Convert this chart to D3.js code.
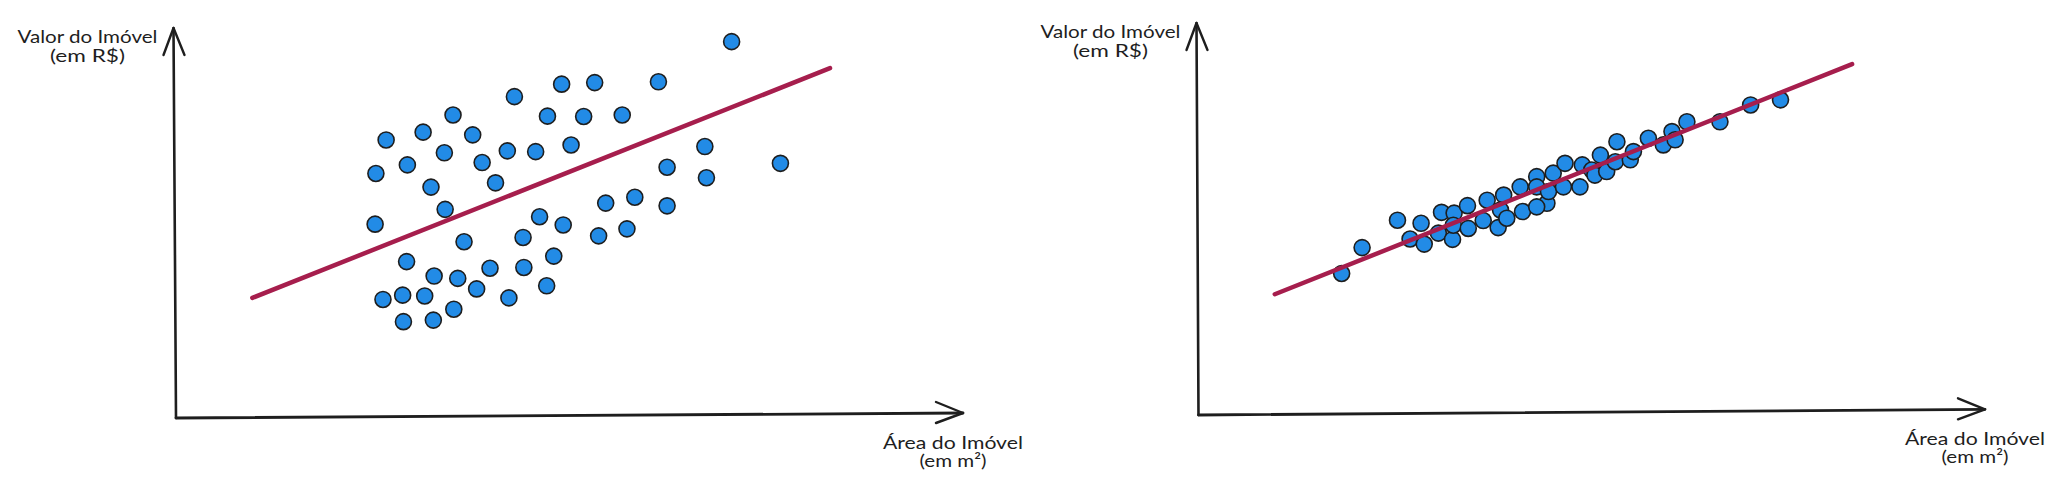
<!DOCTYPE html>
<html>
<head>
<meta charset="utf-8">
<script src="https://cdn.jsdelivr.net/npm/d3@7"></script>
<style>
  html, body { margin: 0; padding: 0; background: #ffffff; }
  svg { display: block; }
  text { font-family: "Lato", "Noto Sans", sans-serif; fill: #1e1e1e; }
</style>
</head>
<body>
<svg id="chart" width="2066" height="495"></svg>
<script>
// ---------- DATA ----------
// Left panel: weak correlation (area vs value, arbitrary 0-100 units)
const leftArea  = [70.6, 49.0, 53.2, 61.3, 43.0, 35.2, 47.2, 51.8, 56.7, 31.4, 37.7, 26.7, 34.1, 42.1, 45.7, 50.2, 67.2,
                   76.8, 25.4, 29.4, 38.9, 62.4, 67.4, 32.4, 40.6, 34.2, 25.3, 58.3, 54.6, 62.4, 46.2, 49.2, 57.3, 53.7,
                   44.1, 36.6, 48.0, 29.3, 39.9, 44.2, 32.8, 35.8, 38.2, 47.1, 26.3, 28.8, 31.6, 42.3, 35.3, 28.9, 32.7];
const leftValue = [96.5, 85.6, 86.0, 86.2, 82.4, 77.7, 77.4, 77.3, 77.7, 73.3, 72.6, 71.3, 68.0, 68.5, 68.3, 70.0, 69.6,
                   65.3, 62.7, 64.9, 65.5, 64.3, 61.6, 59.2, 60.3, 53.5, 49.7, 56.6, 55.1, 54.4, 51.6, 49.5, 48.5, 46.7,
                   46.3, 45.2, 41.5, 40.1, 38.4, 38.6, 36.4, 35.8, 33.1, 33.9, 30.4, 31.5, 31.3, 30.8, 27.9, 24.7, 25.1];
// Right panel: strong correlation
const rightArea  = [18.2, 20.8, 25.3, 28.3, 26.9, 28.7, 30.5, 30.9, 32.5, 32.3, 32.4, 34.2, 34.3, 36.2, 36.7, 38.1, 38.8,
                    38.4, 39.2, 40.9, 41.2, 43.0, 43.0, 44.3, 43.0, 44.5, 45.1, 46.4, 46.6, 48.5, 48.8, 50.0, 50.4, 51.1,
                    51.9, 53.0, 53.2, 54.9, 55.3, 57.2, 59.1, 60.2, 60.6, 62.1, 66.3, 70.2, 74.0];
const rightValue = [36.1, 42.7, 49.7, 48.9, 44.9, 43.6, 46.4, 51.7, 51.5, 44.8, 48.4, 53.4, 47.6, 49.6, 54.8, 47.8, 56.1,
                    52.3, 50.2, 58.2, 51.9, 60.8, 58.2, 54.0, 53.1, 57.0, 61.7, 58.2, 64.2, 58.2, 63.8, 62.5, 61.2, 66.3,
                    62.1, 64.6, 69.7, 65.1, 67.2, 70.6, 68.9, 72.3, 70.2, 74.8, 74.8, 79.1, 80.4];
// Regression lines (endpoints in data units)
const lineArea       = [9.7, 83.1];
const leftLineValue  = [30.8, 89.7];
const rightLineValue = [30.8, 89.5];
// Axis labels
const yLabelLines = ["Valor do Imóvel", "(em R$)"];
const xLabelLines = ["Área do Imóvel", "(em m²)"];
const axisDomain = [0, 100];

// ---------- STYLE / LAYOUT ----------
const dotColor = "#228be6";
const lineColor = "#a61e4d";
const inkColor = "#1e1e1e";

const panels = [
  { xRange: [176, 963],   yRange: [418, 28], tiltY: -2.5, tiltX: -5,
    area: leftArea, value: leftValue, lineValue: leftLineValue },
  { xRange: [1198.5, 1985], yRange: [415, 23], tiltY: -2, tiltX: -5.7,
    area: rightArea, value: rightValue, lineValue: rightLineValue }
];

const svg = d3.select("#chart");

panels.forEach(p => {
  const x = d3.scaleLinear().domain(axisDomain).range(p.xRange);
  const y = d3.scaleLinear().domain(axisDomain).range(p.yRange);
  const g = svg.append("g");

  const x0 = x(axisDomain[0]), y0 = y(axisDomain[0]);
  const yTopX = x0 + p.tiltY, yTopY = y(axisDomain[1]);
  const xEndX = x(axisDomain[1]), xEndY = y0 + p.tiltX;

  // Y axis with arrow
  g.append("line").attr("x1", x0).attr("y1", y0).attr("x2", yTopX).attr("y2", yTopY)
    .attr("stroke", inkColor).attr("stroke-width", 2.6).attr("stroke-linecap", "round");
  g.append("path")
    .attr("d", `M${yTopX - 10},${yTopY + 27} L${yTopX},${yTopY} L${yTopX + 11},${yTopY + 27}`)
    .attr("fill", "none").attr("stroke", inkColor).attr("stroke-width", 2.4)
    .attr("stroke-linecap", "round").attr("stroke-linejoin", "round");

  // X axis with arrow
  g.append("line").attr("x1", x0).attr("y1", y0).attr("x2", xEndX).attr("y2", xEndY)
    .attr("stroke", inkColor).attr("stroke-width", 2.8).attr("stroke-linecap", "round");
  g.append("path")
    .attr("d", `M${xEndX - 27},${xEndY - 11} L${xEndX},${xEndY} L${xEndX - 27},${xEndY + 10}`)
    .attr("fill", "none").attr("stroke", inkColor).attr("stroke-width", 2.4)
    .attr("stroke-linecap", "round").attr("stroke-linejoin", "round");

  // Y label
  const yl = g.append("text").attr("text-anchor", "middle").attr("font-size", 18);
  yl.append("tspan").attr("x", yTopX - 86).attr("y", yTopY + 14.7)
    .attr("textLength", 140).attr("lengthAdjust", "spacingAndGlyphs").text(yLabelLines[0]);
  g.append("text").attr("text-anchor", "middle").attr("font-size", 18)
    .attr("x", yTopX - 86).attr("y", yTopY + 33.5)
    .attr("textLength", 75).attr("lengthAdjust", "spacingAndGlyphs").text(yLabelLines[1]);

  // X label
  g.append("text").attr("text-anchor", "middle").attr("font-size", 18)
    .attr("x", xEndX - 10).attr("y", xEndY + 35.7)
    .attr("textLength", 140).attr("lengthAdjust", "spacingAndGlyphs").text(xLabelLines[0]);
  g.append("text").attr("text-anchor", "middle").attr("font-size", 18)
    .attr("x", xEndX - 10).attr("y", xEndY + 54)
    .attr("textLength", 67).attr("lengthAdjust", "spacingAndGlyphs").text(xLabelLines[1]);

  // Dots
  const pts = p.area.map((a, i) => ({ a, v: p.value[i] }));
  g.append("g").selectAll("circle").data(pts).join("circle")
    .attr("cx", d => x(d.a)).attr("cy", d => y(d.v)).attr("r", 8)
    .attr("fill", dotColor).attr("stroke", inkColor).attr("stroke-width", 1.6);

  // Regression line
  const lineData = lineArea.map((a, i) => ({ a, v: p.lineValue[i] }));
  g.append("path").datum(lineData)
    .attr("d", d3.line().x(d => x(d.a)).y(d => y(d.v)))
    .attr("fill", "none").attr("stroke", lineColor).attr("stroke-width", 4.5)
    .attr("stroke-linecap", "round");
});
</script>
</body>
</html>
